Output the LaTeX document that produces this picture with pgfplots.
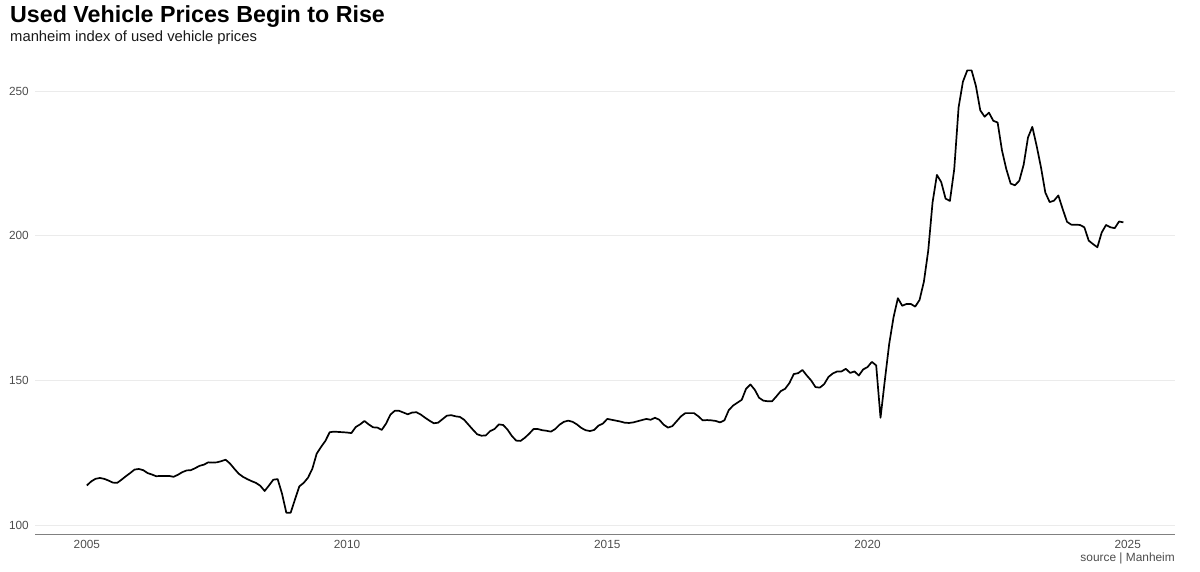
\documentclass[border=0pt]{standalone}
\usepackage{fontspec}
\setmainfont{Liberation Sans}
\usepackage{pgfplots}
\usepackage{pgfplotstable}
\pgfplotsset{compat=1.18}
\definecolor{gridgray}{HTML}{EBEBEB}
\definecolor{axisgray}{HTML}{808080}
\definecolor{ticktext}{HTML}{4D4D4D}
% Manheim used vehicle value index, monthly, Jan 2005 - Dec 2024
\pgfplotstableread{
v
113.7
115.1
116.0
116.3
116.0
115.4
114.7
114.6
115.7
116.9
118.0
119.2
119.4
119.0
118.0
117.5
116.9
117.0
117.0
117.0
116.7
117.4
118.3
118.9
119.0
119.7
120.5
120.9
121.7
121.6
121.7
122.1
122.6
121.3
119.5
117.8
116.7
115.9
115.2
114.6
113.6
111.8
113.7
115.7
115.9
110.9
104.3
104.3
108.9
113.4
114.6
116.4
119.5
124.7
127.0
129.1
132.1
132.3
132.2
132.1
132.0
131.8
133.9
134.8
136.0
134.8
133.8
133.7
132.9
135.1
138.2
139.5
139.5
138.9
138.3
138.9
139.0
138.2
137.1
136.1
135.2
135.4
136.6
137.8
138.0
137.6
137.4
136.4
134.7
133.0
131.4
130.9
131.0
132.5
133.2
134.8
134.6
133.0
130.8
129.2
129.1
130.2
131.6
133.2
133.2
132.8
132.6
132.3
133.2
134.7
135.7
136.1
135.7
134.8
133.6
132.8
132.5
132.9
134.4
135.1
136.7
136.4
136.1
135.8
135.4
135.3
135.5
135.9
136.3
136.7
136.4
137.1
136.4
134.7
133.7
134.2
135.9
137.6
138.7
138.7
138.7
137.6
136.2
136.3
136.2
136.0
135.5
136.2
139.7
141.3
142.3
143.3
147.1
148.6
146.8
144.0
143.0
142.8
142.8
144.5
146.3
147.1
149.1
152.2
152.5
153.6
151.7
150.0
147.7
147.5
148.7
151.2
152.4
153.1
153.1
154.0
152.6
153.1
151.7
153.8
154.6
156.4
155.2
137.1
150.1
162.6
171.8
178.4
175.8
176.4
176.4
175.5
177.8
184.1
194.8
211.5
221.0
218.5
212.8
212.0
223.0
244.3
253.2
257.1
257.1
251.7
243.3
241.1
242.5
239.7
239.1
229.5
223.0
218.0
217.4
219.0
224.5
233.9
237.6
231.0
223.6
214.9
211.6
212.1
213.9
209.2
204.8
203.8
203.8
203.7
202.9
198.3
197.1
196.0
201.1
203.7
202.9
202.6
204.9
204.6
}\mheim
\begin{document}
\begin{tikzpicture}
\useasboundingbox (0bp,0bp) rectangle (1200bp,572bp);
\node[anchor=base west, inner sep=0pt, font=\fontsize{23.25bp}{26bp}\selectfont\bfseries] at (10bp,549.5bp) {Used Vehicle Prices Begin to Rise};
\node[anchor=base west, inner sep=0pt, font=\fontsize{14.8bp}{17bp}\selectfont, text=black!90] at (10bp,530.5bp) {manheim index of used vehicle prices};
\begin{axis}[
  at={(35bp,37.3bp)}, anchor=south west,
  scale only axis, width=1140bp, height=486.3bp,
  xmin=-11.95, xmax=250.9,
  ymin=96.7, ymax=264.7,
  xtick={0,60,120,180,240},
  xticklabels={2005,2010,2015,2020,2025},
  ytick={100,150,200,250},
  /pgf/number format/assume math mode=true,
  major tick length=0pt,
  axis x line*=bottom, axis y line*=left,
  x axis line style={draw=axisgray, line width=1.1bp, -},
  y axis line style={draw=none, -},
  ymajorgrids, xmajorgrids=false,
  grid style={draw=gridgray, line width=0.8bp},
  tick label style={font=\fontsize{11.8bp}{13bp}\selectfont, text=ticktext},
  xticklabel style={anchor=base, inner sep=0pt, yshift=-13.6bp},
  yticklabel style={anchor=east, inner sep=0pt, xshift=-6bp},
  clip=false,
]
\addplot[black, line width=1.7bp, line join=round, no markers] table[x expr=\coordindex, y=v]{\mheim};
\end{axis}
\node[anchor=base east, inner sep=0pt, font=\fontsize{11.9bp}{13bp}\selectfont, text=ticktext] at (1175bp,10.5bp) {source | Manheim};
\end{tikzpicture}
\end{document}
